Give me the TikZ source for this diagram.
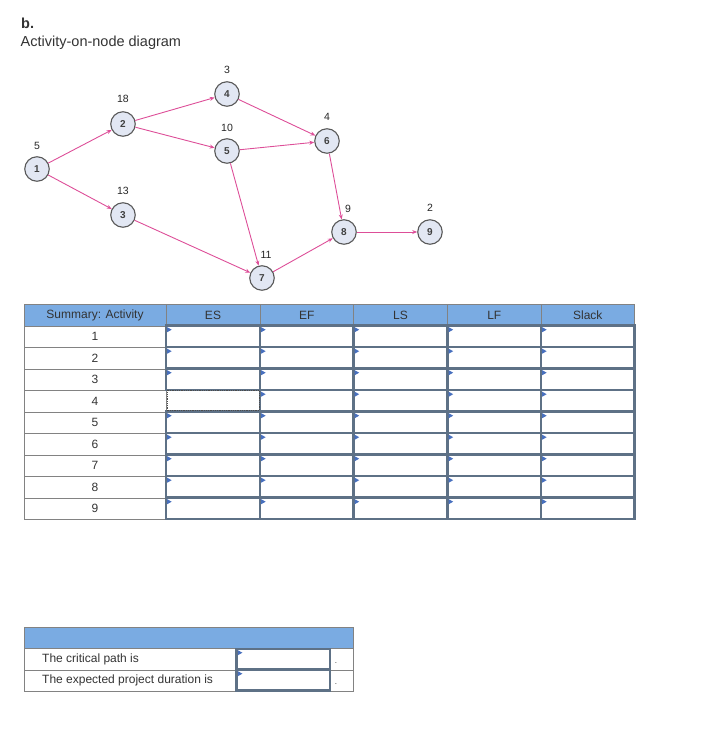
\documentclass[tikz,border=0pt]{standalone}
\usepackage{fontspec}
\setmainfont{Liberation Sans}
\usetikzlibrary{arrows.meta}

\definecolor{pinkline}{RGB}{221,78,152}
\definecolor{nodefill}{RGB}{226,231,243}
\definecolor{headblue}{RGB}{122,171,226}
\definecolor{boxedge}{RGB}{94,113,134}
\definecolor{gridgray}{RGB}{130,130,130}
\definecolor{marker}{RGB}{72,112,190}
\definecolor{txt}{RGB}{51,51,51}

\tikzset{
  act/.style={circle, draw=black!65, fill=nodefill, line width=1.1pt, minimum size=24.5pt,
    inner sep=0pt, font=\fontsize{10}{10}\selectfont\bfseries, text=black!75},
  dur/.style={inner sep=0pt, font=\fontsize{10.5}{10.5}\selectfont, text=black!85},
  link/.style={draw=pinkline, line width=0.9pt, -{Stealth[length=5pt,width=4pt]}},
  cell/.style={inner sep=0pt, font=\fontsize{12}{12}\selectfont, text=txt},
  inbox/.style={draw=boxedge, line width=2.5pt},
  tick/.style={fill=marker}
}

\begin{document}
\begin{tikzpicture}[x=1pt, y=-1pt]
  \useasboundingbox (0,0) rectangle (707,737);

  % title
  \node[cell, anchor=base west, font=\fontsize{14.5}{14.5}\selectfont\bfseries] (part) at (21,28.3) {b.};
  \node[cell, anchor=base west, font=\fontsize{14.5}{14.5}\selectfont] (title) at (20.5,46) {Activity-on-node diagram};

  % activities
  \node[act] (a1) at (37,169) {1};
  \node[act] (a2) at (123,124) {2};
  \node[act] (a3) at (123,215) {3};
  \node[act] (a4) at (227,94) {4};
  \node[act] (a5) at (227,151) {5};
  \node[act] (a6) at (327,141) {6};
  \node[act] (a7) at (262,278) {7};
  \node[act] (a8) at (344,232) {8};
  \node[act] (a9) at (430,232) {9};

  % durations above the nodes
  \node[dur] (d1) at (37,146) {5};
  \node[dur] (d2) at (123,99) {18};
  \node[dur] (d3) at (123,191) {13};
  \node[dur] (d4) at (227,70) {3};
  \node[dur] (d5) at (227,128) {10};
  \node[dur] (d6) at (327,117) {4};
  \node[dur] (d7) at (266,255) {11};
  \node[dur] (d8) at (348,209) {9};
  \node[dur] (d9) at (430,208) {2};

  % precedence arrows
  \draw[link] (a1) -- (a2);
  \draw[link] (a1) -- (a3);
  \draw[link] (a2) -- (a4);
  \draw[link] (a2) -- (a5);
  \draw[link] (a3) -- (a7);
  \draw[link] (a4) -- (a6);
  \draw[link] (a5) -- (a6);
  \draw[link] (a5) -- (a7);
  \draw[link] (a6) -- (a8);
  \draw[link] (a7) -- (a8);
  \draw[link] (a8) -- (a9);

  % table header
  \fill[headblue] (24,304.5) rectangle (634.5,325.7);
  \draw[gridgray] (24,304.5) rectangle (634.5,325.7);
  \foreach \x in {166,260,353.5,447.5,541} {
    \draw[gridgray] (\x,304.5) -- (\x,325.7);
  }
  \node[cell] (h0) at (95,315.5) {Summary: Activity};
  \node[cell] (h1) at (213,315.5) {ES};
  \node[cell] (h2) at (306.8,315.5) {EF};
  \node[cell] (h3) at (400.5,315.5) {LS};
  \node[cell] (h4) at (494.3,315.5) {LF};
  \node[cell] (h5) at (587.8,315.5) {Slack};

  % first column
  \foreach \r in {1,...,9} {
    \draw[gridgray] (24,{325.7+21.5*(\r-1)}) rectangle (166,{325.7+21.5*\r});
    \node[cell] (r\r) at (95,{336.5+21.5*(\r-1)}) {\r};
  }

  % answer boxes
  \foreach [count=\c] \xa/\xb in {166/260,260/353.5,353.5/447.5,447.5/541,541/634.5} {
    \foreach \r in {1,...,9} {
      \ifnum\c\r=14 \else
        \draw[inbox] (\xa,{325.7+21.5*(\r-1)}) rectangle (\xb,{325.7+21.5*\r});
        \fill[tick] (\xa+1.2,{327.2+21.5*(\r-1)}) -- (\xa+1.2,{332.2+21.5*(\r-1)}) -- (\xa+5.7,{329.7+21.5*(\r-1)}) -- cycle;
      \fi
    }
  }
  % box with focus
  \draw[black!70, densely dotted, line width=0.8pt] (167,390.3) rectangle (259,410.8);

  % bottom table
  \fill[headblue] (24,627.3) rectangle (353.3,648.3);
  \draw[gridgray] (24,627.3) rectangle (353.3,648.3);
  \draw[gridgray] (24,648.3) rectangle (353.3,669.7);
  \draw[gridgray] (24,669.7) rectangle (353.3,691);
  \draw[inbox] (236.7,648.8) rectangle (330,669.7);
  \draw[inbox] (236.7,669.7) rectangle (330,690.5);
  \fill[tick] (237.9,650.2) -- (237.9,655.2) -- (242.4,652.7) -- cycle;
  \fill[tick] (237.9,671.2) -- (237.9,676.2) -- (242.4,673.7) -- cycle;
  \node[cell, anchor=west] (q1) at (42,659.5) {The critical path is};
  \node[cell, anchor=west] (q2) at (42,680.5) {The expected project duration is};
  \node[cell, anchor=base, font=\fontsize{8}{8}\selectfont] (p1) at (336,663) {.};
  \node[cell, anchor=base, font=\fontsize{8}{8}\selectfont] (p2) at (336,684) {.};
\end{tikzpicture}
\end{document}
